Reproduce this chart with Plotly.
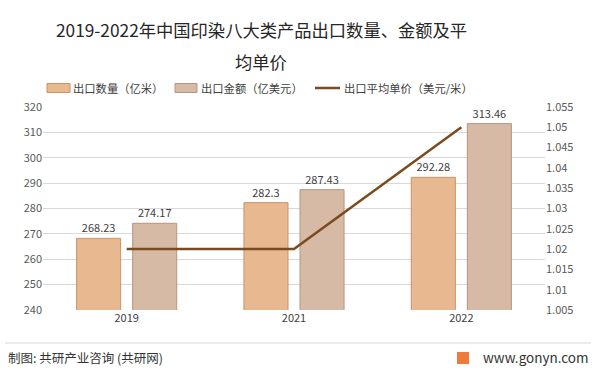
import plotly.graph_objects as go

years = ["2019", "2021", "2022"]
qty = [268.23, 282.3, 292.28]          # 出口数量（亿米）
amount = [274.17, 287.43, 313.46]      # 出口金额（亿美元）
price = [1.02, 1.02, 1.05]             # 出口平均单价（美元/米）
qty_labels = ["268.23", "282.3", "292.28"]
amount_labels = ["274.17", "287.43", "313.46"]
left_ticks = [240, 250, 260, 270, 280, 290, 300, 310, 320]
right_ticks = [1.005, 1.01, 1.015, 1.02, 1.025, 1.03, 1.035, 1.04, 1.045, 1.05, 1.055]
series_names = ["出口数量（亿米）", "出口金额（亿美元）", "出口平均单价（美元/米）"]

FONT = "Noto Sans CJK SC, Microsoft YaHei, sans-serif"
W, H = 597, 372
L, R, T, B = 43, 52, 107, 62
PW, PH = W - L - R, H - T - B
C_QTY, C_QTY_EDGE = "#E8B891", "#C8926A"
C_AMT, C_AMT_EDGE = "#D6BAA5", "#B59580"
C_LINE = "#7B4A1F"


def px_x(x):
    return (x - L) / PW


def px_y(y):
    return (H - B - y) / PH


fig = go.Figure()
fig.add_trace(go.Bar(
    x=years, y=qty, name=series_names[0],
    marker=dict(color=C_QTY, line=dict(color=C_QTY_EDGE, width=1)),
    text=qty_labels, textposition="outside", cliponaxis=False,
    textfont=dict(size=11, color="#404040"),
))
fig.add_trace(go.Bar(
    x=years, y=amount, name=series_names[1],
    marker=dict(color=C_AMT, line=dict(color=C_AMT_EDGE, width=1)),
    text=amount_labels, textposition="outside", cliponaxis=False,
    textfont=dict(size=11, color="#404040"),
))
fig.add_trace(go.Scatter(
    x=years, y=price, name=series_names[2], yaxis="y2",
    mode="lines", line=dict(color=C_LINE, width=2.5),
))

fig.update_layout(
    width=W, height=H,
    margin=dict(l=L, r=R, t=T, b=B, autoexpand=False),
    paper_bgcolor="white", plot_bgcolor="white",
    font=dict(family=FONT, color="#595959", size=11),
    barmode="group", bargap=0.33, bargroupgap=0.214,
    showlegend=False,
    xaxis=dict(
        type="category", showgrid=False, showline=False, ticks="",
        tickfont=dict(size=11, color="#404040"), zeroline=False,
    ),
    yaxis=dict(
        range=[240, 320], tickvals=left_ticks, showgrid=True,
        gridcolor="#D9D9D9", gridwidth=1, zeroline=False, showline=False,
        tickfont=dict(size=11, color="#595959"), ticks="",
    ),
    yaxis2=dict(
        overlaying="y", side="right", range=[1.005, 1.055],
        tickvals=right_ticks, ticktext=[("%g" % v) for v in right_ticks],
        showgrid=False, zeroline=False, showline=False,
        tickfont=dict(size=11, color="#595959"), ticks="",
    ),
)

# title in two lines
for txt, ty in [("2019-2022年中国印染八大类产品出口数量、金额及平", 30), ("均单价", 62)]:
    fig.add_annotation(text=txt, xref="paper", yref="paper",
                       x=px_x(261), xanchor="center", y=px_y(ty), yanchor="middle",
                       showarrow=False, font=dict(size=17.3, color="#262626", family=FONT))

# legend (drawn)
LY = 88
fig.add_shape(type="rect", xref="paper", yref="paper",
              x0=px_x(47), x1=px_x(70), y0=px_y(LY + 4.5), y1=px_y(LY - 4.5),
              fillcolor=C_QTY, line=dict(color=C_QTY_EDGE, width=1))
fig.add_shape(type="rect", xref="paper", yref="paper",
              x0=px_x(175), x1=px_x(197), y0=px_y(LY + 4.5), y1=px_y(LY - 4.5),
              fillcolor=C_AMT, line=dict(color=C_AMT_EDGE, width=1))
fig.add_shape(type="line", xref="paper", yref="paper",
              x0=px_x(315), x1=px_x(340), y0=px_y(LY), y1=px_y(LY),
              line=dict(color=C_LINE, width=2.5))
for name, lx in zip(series_names, [71, 199, 342]):
    fig.add_annotation(text=name, xref="paper", yref="paper",
                       x=px_x(lx), xanchor="left", y=px_y(LY), yanchor="middle",
                       showarrow=False, font=dict(size=11.3, color="#404040", family=FONT))

# footer separator, credit and site
fig.add_shape(type="line", xref="paper", yref="paper",
              x0=px_x(5), x1=px_x(591), y0=px_y(343), y1=px_y(343),
              line=dict(color="#D9D9D9", width=1))
fig.add_shape(type="rect", xref="paper", yref="paper",
              x0=px_x(457), x1=px_x(469), y0=px_y(364), y1=px_y(352),
              fillcolor="#F07A3A", line=dict(width=0))
fig.add_annotation(text="制图: 共研产业咨询 (共研网)", xref="paper", yref="paper",
                   x=px_x(6), xanchor="left", y=px_y(357), yanchor="middle",
                   showarrow=False, font=dict(size=12.5, color="#333333", family=FONT))
fig.add_annotation(text="www.gonyn.com", xref="paper", yref="paper",
                   x=px_x(591), xanchor="right", y=px_y(357), yanchor="middle",
                   showarrow=False, font=dict(size=13.5, color="#333333", family=FONT))

fig.write_html("out.html", config={"displayModeBar": False},
               post_script="document.body.style.margin='0';")
